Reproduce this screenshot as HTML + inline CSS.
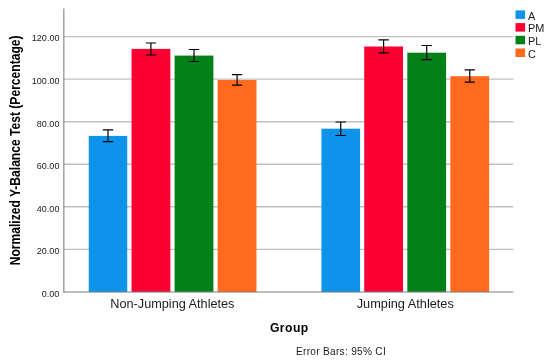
<!DOCTYPE html>
<html><head><meta charset="utf-8"><title>Chart</title>
<style>
html,body{margin:0;padding:0;background:#fff;}
body{width:550px;height:364px;overflow:hidden;}
svg{display:block;}
text{font-family:"Liberation Sans",Arial,sans-serif;fill:#1a1a1a;}
.b{fill:#000;font-weight:bold;}
</style></head><body>
<svg width="550" height="364" viewBox="0 0 550 364">
<rect width="550" height="364" fill="#ffffff"/>

<line x1="64" x2="513.3" y1="249.28" y2="249.28" stroke="#c0c0c0" stroke-width="1.3"/>
<line x1="64" x2="513.3" y1="206.77" y2="206.77" stroke="#c0c0c0" stroke-width="1.3"/>
<line x1="64" x2="513.3" y1="164.25" y2="164.25" stroke="#c0c0c0" stroke-width="1.3"/>
<line x1="64" x2="513.3" y1="121.74" y2="121.74" stroke="#c0c0c0" stroke-width="1.3"/>
<line x1="64" x2="513.3" y1="79.22" y2="79.22" stroke="#c0c0c0" stroke-width="1.3"/>
<line x1="64" x2="513.3" y1="36.70" y2="36.70" stroke="#c0c0c0" stroke-width="1.3"/>
<rect x="88.75" y="135.9" width="38.5" height="156.20" fill="#0D93E9"/>
<rect x="131.55" y="48.9" width="38.8" height="243.20" fill="#FA0032"/>
<rect x="174.6" y="55.6" width="38.8" height="236.50" fill="#048018"/>
<rect x="217.65" y="80.0" width="38.8" height="212.10" fill="#FF6A1F"/>
<rect x="321.45" y="128.7" width="38.6" height="163.40" fill="#0D93E9"/>
<rect x="364.25" y="46.5" width="38.8" height="245.60" fill="#FA0032"/>
<rect x="407.3" y="52.7" width="38.8" height="239.40" fill="#048018"/>
<rect x="450.35" y="76.2" width="38.8" height="215.90" fill="#FF6A1F"/>
<line x1="63.85" x2="63.85" y1="8.5" y2="292.55" stroke="#7c7c7c" stroke-width="1.05"/>
<line x1="63.3" x2="513.3" y1="292.0" y2="292.0" stroke="#7c7c7c" stroke-width="1.1"/>
<path d="M102.8 129.9 H113.2 M102.8 141.6 H113.2 M108.0 129.9 V141.6" stroke="#000" stroke-width="1.2" fill="none"/>
<path d="M145.8 43.0 H156.1 M145.8 55.0 H156.1 M150.9 43.0 V55.0" stroke="#000" stroke-width="1.2" fill="none"/>
<path d="M188.8 49.5 H199.2 M188.8 61.5 H199.2 M194.0 49.5 V61.5" stroke="#000" stroke-width="1.2" fill="none"/>
<path d="M231.9 74.6 H242.2 M231.9 85.2 H242.2 M237.1 74.6 V85.2" stroke="#000" stroke-width="1.2" fill="none"/>
<path d="M335.5 122.0 H345.9 M335.5 135.5 H345.9 M340.7 122.0 V135.5" stroke="#000" stroke-width="1.2" fill="none"/>
<path d="M378.4 39.8 H388.8 M378.4 52.9 H388.8 M383.6 39.8 V52.9" stroke="#000" stroke-width="1.2" fill="none"/>
<path d="M421.5 45.5 H431.9 M421.5 59.7 H431.9 M426.7 45.5 V59.7" stroke="#000" stroke-width="1.2" fill="none"/>
<path d="M464.6 69.8 H474.9 M464.6 82.2 H474.9 M469.8 69.8 V82.2" stroke="#000" stroke-width="1.2" fill="none"/>
<text x="59.4" y="296.7" font-size="9" text-anchor="end">0.00</text>
<text x="59.4" y="254.1" font-size="9" text-anchor="end">20.00</text>
<text x="59.4" y="211.6" font-size="9" text-anchor="end">40.00</text>
<text x="59.4" y="169.1" font-size="9" text-anchor="end">60.00</text>
<text x="59.4" y="126.6" font-size="9" text-anchor="end">80.00</text>
<text x="59.4" y="84.1" font-size="9" text-anchor="end">100.00</text>
<text x="59.4" y="41.1" font-size="9" text-anchor="end">120.00</text>
<text transform="translate(19.6,150.4) rotate(-90) scale(1,1.15)" font-size="12.1" class="b" text-anchor="middle">Normalized Y-Balance Test (Percentage)</text>
<text x="172.4" y="307.7" font-size="12.7" text-anchor="middle">Non-Jumping Athletes</text>
<text x="405.3" y="307.7" font-size="12.75" text-anchor="middle">Jumping Athletes</text>
<text x="289.3" y="332" font-size="12.2" class="b" text-anchor="middle" letter-spacing="0.45">Group</text>
<text x="341" y="354.7" font-size="10.1" text-anchor="middle" letter-spacing="0.3">Error Bars: 95% CI</text>
<rect x="515.5" y="10.4" width="9.6" height="8.5" fill="#0D93E9"/>
<text transform="translate(528,19.6) scale(1.09,1)" font-size="10">A</text>
<rect x="515.5" y="23.1" width="9.6" height="8.5" fill="#FA0032"/>
<text transform="translate(528,32.3) scale(1.09,1)" font-size="10">PM</text>
<rect x="515.5" y="35.8" width="9.6" height="8.5" fill="#048018"/>
<text transform="translate(528,45.0) scale(1.09,1)" font-size="10">PL</text>
<rect x="515.5" y="48.5" width="9.6" height="8.5" fill="#FF6A1F"/>
<text transform="translate(528,57.7) scale(1.09,1)" font-size="10">C</text>
</svg></body></html>
